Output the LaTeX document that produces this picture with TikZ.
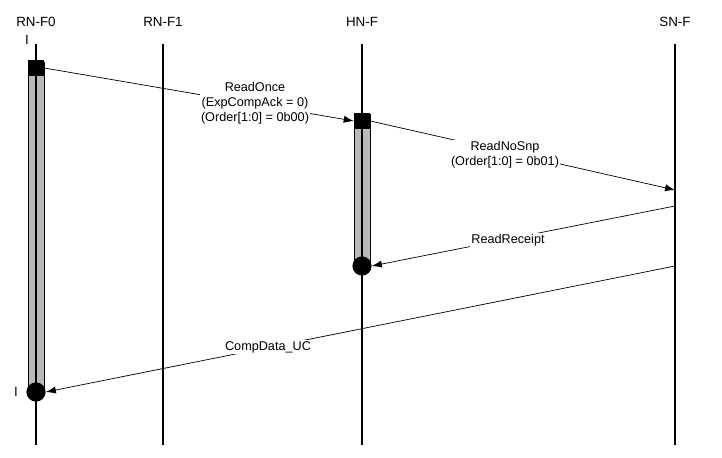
\documentclass[tikz,border=0pt]{standalone}
\usepackage{fontspec}
\setmainfont{Liberation Sans}
\usepackage{tikz}
\usetikzlibrary{arrows.meta}

\begin{document}
\begin{tikzpicture}[x=0.025cm,y=-0.025cm,
				lifeline/.style={line width=1.2pt},
				bar/.style={draw,fill=gray!55,minimum width=0.4cm,inner sep=0pt},
				start/.style={rectangle,fill=black,minimum size=0.4cm,inner sep=0pt},
				stop/.style={circle,fill=black,minimum size=0.48cm,inner sep=0pt},
				msg/.style={-{Latex[length=2.5mm,width=1.8mm]},line width=0.5pt},
				lbl/.style={fill=white,align=center,inner sep=1pt,font=\fontsize{9}{10.5}\selectfont},
				title/.style={font=\fontsize{9.5}{11}\selectfont}]
	\useasboundingbox (0,0) rectangle (722,458);
	% bars
	\node[bar,minimum height=330*0.025cm] (B0) at (36,227) {};
	\node[bar,minimum height=152*0.025cm] (BH) at (362,190) {};
	% lifelines
	\node[title] (T0) at (36,22) {RN-F0};
	\node[title] (T1) at (163,22) {RN-F1};
	\node[title] (TH) at (362,22) {HN-F};
	\node[title] (TS) at (675,22) {SN-F};
	\coordinate (E0) at (36,445);
	\coordinate (E1) at (163,445);
	\coordinate (EH) at (362,445);
	\coordinate (ES) at (675,445);
	\draw[lifeline] (36,44) -- (E0);
	\draw[lifeline] (163,44) -- (E1);
	\draw[lifeline] (362,44) -- (EH);
	\draw[lifeline] (675,44) -- (ES);
	\node[title] (I0) at (27,40) {I};
	\node[title] (I1) at (16,392) {I};
	% activations
	\node[start] (S0) at (36,68) {};
	\node[start] (SH) at (362,121) {};
	\node[stop] (C0) at (36,392) {};
	\node[stop] (CH) at (362,266) {};
	\coordinate (P1) at (675,190);
	\coordinate (P2) at (675,206);
	\coordinate (P3) at (675,266);
	% messages
	\draw[msg] (S0.east) -- (SH.west);
	\node[lbl] (L1) at (255,103) {ReadOnce\\(ExpCompAck = 0)\\(Order[1:0] = 0b00)};
	\draw[msg] (SH.east) -- (P1);
	\node[lbl] (L2) at (505,155) {ReadNoSnp\\(Order[1:0] = 0b01)};
	\draw[msg] (P2) -- (CH.east);
	\node[lbl] (L3) at (508,240) {ReadReceipt};
	\draw[msg] (P3) -- (C0.east);
	\node[lbl] (L4) at (268,347) {CompData\_UC};
\end{tikzpicture}
\end{document}
